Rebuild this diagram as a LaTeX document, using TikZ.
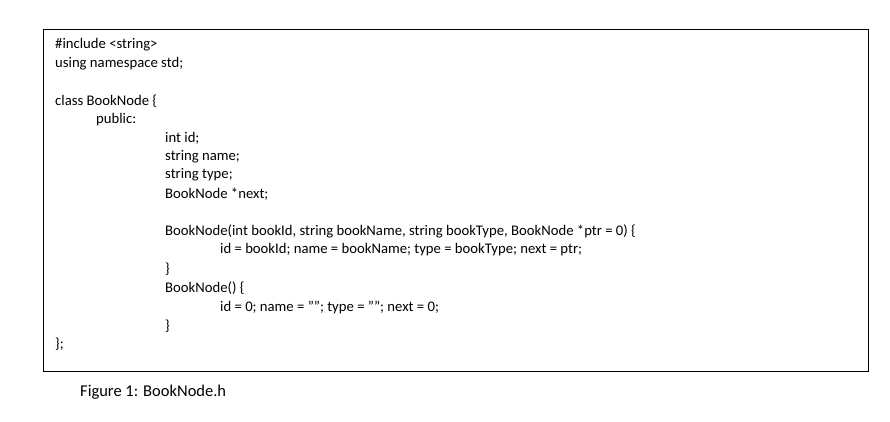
\documentclass[tikz,border=0pt]{standalone}
\usepackage{fontspec}
\setmainfont{Carlito}
\usetikzlibrary{positioning}
\tikzset{
    codeline/.style={anchor=west, inner sep=0pt, font=\fontsize{14.7}{18}\selectfont},
    codebox/.style={draw, line width=0.8pt}
}
\begin{document}
\begin{tikzpicture}[x=1pt, y=-1pt]
    \useasboundingbox (0,0) rectangle (890,421);
    \draw[codebox] (43,29) rectangle (868,371);
    \def \la {55}
    \def \lb {96}
    \def \lc {165}
    \def \ld {220}
    \node[codeline] (inc) at (\la,45) {\#include <string>};
    \node[codeline] (ns) at (\la,64) {using namespace std;};
    \node[codeline] (cls) at (\la,101) {class BookNode \{};
    \node[codeline] (pub) at (\lb,120) {public:};
    \node[codeline] (fid) at (\lc,138) {int id;};
    \node[codeline] (fname) at (\lc,157) {string name;};
    \node[codeline] (ftype) at (\lc,175) {string type;};
    \node[codeline] (fnext) at (\lc,194) {BookNode *next;};
    \node[codeline] (ctor) at (\lc,231) {BookNode(int bookId, string bookName, string bookType, BookNode *ptr = 0) \{};
    \node[codeline] (cbody) at (\ld,250) {id = bookId; name = bookName; type = bookType; next = ptr;};
    \node[codeline] (cend) at (\lc,269) {\}};
    \node[codeline] (dctor) at (\lc,288) {BookNode() \{};
    \node[codeline] (dbody) at (\ld,307) {id = 0; name = ""; type = ""; next = 0;};
    \node[codeline] (dend) at (\lc,326) {\}};
    \node[codeline] (clsend) at (\la,344) {\};};
    % caption
    \node[codeline, font=\fontsize{16.5}{20}\selectfont] (cap) at (80,392) {Figure 1: BookNode.h};
\end{tikzpicture}
\end{document}
